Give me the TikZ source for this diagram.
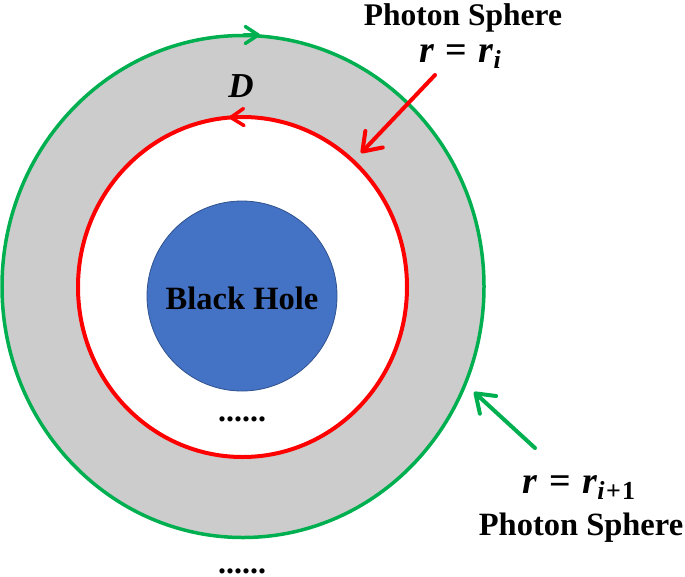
\documentclass[tikz,border=0pt]{standalone}
\usepackage{fontspec}
\setmainfont{Liberation Serif}
\usetikzlibrary{arrows.meta}
\definecolor{ringgreen}{HTML}{00B050}
\definecolor{ringred}{HTML}{FF0000}
\definecolor{ringgray}{HTML}{CCCCCC}
\definecolor{bhblue}{HTML}{4472C4}
\definecolor{bhedge}{HTML}{2F528F}
\newcommand{\mysub}[1]{\raisebox{-6pt}{\fontsize{26}{30}\selectfont #1}}
\tikzset{
  lbl/.style={font=\fontsize{31.5}{36}\selectfont\bfseries, inner sep=0pt, align=center},
  mlbl/.style={font=\fontsize{38}{40}\selectfont\bfseries, inner sep=0pt},
  bigtip/.style={-{Straight Barb[length=17pt,width=24pt,line cap=round,line join=round]}, line width=4pt, line cap=round},
  smalltip/.style={-{Straight Barb[length=13pt,width=17pt,line cap=round,line join=round]}, line width=3.5pt, line cap=round},
}
\begin{document}
\begin{tikzpicture}[x=1pt,y=-1pt]
\useasboundingbox (0,0) rectangle (685,576);
% filled rings
\fill[ringgray] (243,286.5) ellipse [x radius=241, y radius=251];
\fill[white] (242.5,287) ellipse [x radius=164.5, y radius=170];
\draw[ringgreen, line width=3.5pt] (243,286.5) ellipse [x radius=241, y radius=251];
\draw[ringred, line width=4pt] (242.5,287) ellipse [x radius=164.5, y radius=170];
% black hole
\node[circle, minimum size=190pt, fill=bhblue, draw=bhedge, line width=0.8pt, inner sep=0pt] (bh) at (242,296) {};
\node[lbl, font=\fontsize{32.5}{36}\selectfont\bfseries] (bhtext) at (242,298) {Black Hole};
% direction marks on the rings
\coordinate (ga) at (244,35);
\coordinate (gb) at (260,35);
\draw[ringgreen, smalltip] (ga) -- (gb);
\coordinate (ra) at (245,117);
\coordinate (rb) at (229,117.5);
\draw[ringred, smalltip] (ra) -- (rb);
% D label
\node[mlbl, font=\fontsize{35}{38}\selectfont\bfseries\itshape, anchor=base] (dlab) at (241,97) {D};
% top label
\node[lbl, anchor=base] (top1) at (463,25) {Photon Sphere};
\node[mlbl, anchor=base] (top2) at (460,62) {\textit{r}\hspace{0.3em}=\hspace{0.3em}\textit{r}\mysub{\textit{i}}};
% red pointer
\coordinate (redtail) at (435,75);
\coordinate (redtip) at (361,153);
\draw[ringred, bigtip] (redtail) -- (redtip);
% bottom label
\node[mlbl, anchor=base] (bot1) at (579,493) {\textit{r}\hspace{0.3em}=\hspace{0.3em}\textit{r}\mysub{\textit{i}\hspace{0.05em}+\hspace{0.05em}1}};
\node[lbl, font=\fontsize{32.5}{36}\selectfont\bfseries, anchor=base] (bot2) at (581,535) {Photon Sphere};
% green pointer
\coordinate (greentail) at (535,448);
\coordinate (greentip) at (474,392);
\draw[ringgreen, bigtip] (greentail) -- (greentip);
% dots
\node[font=\fontsize{32}{36}\selectfont\bfseries, inner sep=0pt, anchor=base] (dots1) at (242,421) {......};
\node[font=\fontsize{32}{36}\selectfont\bfseries, inner sep=0pt, anchor=base] (dots2) at (242,573) {......};
\end{tikzpicture}
\end{document}
